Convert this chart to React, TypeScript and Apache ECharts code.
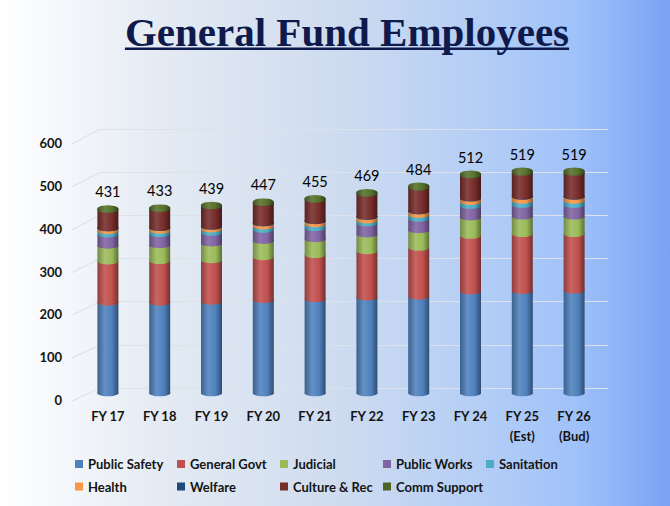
import React, { useEffect, useRef } from "react";
import * as echarts from "echarts";

// Fiscal years on the category axis
const categories = [
  "FY 17", "FY 18", "FY 19", "FY 20", "FY 21",
  "FY 22", "FY 23", "FY 24", "FY 25\n(Est)", "FY 26\n(Bud)",
];

// Employees per department, stacked bottom to top
const publicSafety = [212, 212, 214, 218, 220, 224, 226, 238, 239, 240];
const generalGovt = [96, 97, 97, 100, 103, 108, 114, 130, 133, 132];
const judicial = [37, 37, 39, 38, 37, 39, 41, 43, 41, 41];
const publicWorks = [26, 26, 25, 26, 26, 26, 27, 27, 27, 27];
const sanitation = [8, 8, 8, 8, 9, 7, 9, 9, 10, 10];
const health = [6, 6, 6, 7, 7, 8, 8, 8, 9, 9];
const welfare = [1, 1, 1, 1, 1, 1, 1, 1, 1, 1];
const cultureRec = [42, 43, 47, 46, 49, 53, 54, 53, 55, 55];
const commSupport = [3, 3, 2, 3, 3, 3, 4, 3, 4, 4];

// Total employees printed above each column
const totals = [431, 433, 439, 447, 455, 469, 484, 512, 519, 519];

// Value-axis ticks
const yTicks = [0, 100, 200, 300, 400, 500, 600];

const seriesNames = [
  "Public Safety", "General Govt", "Judicial", "Public Works", "Sanitation",
  "Health", "Welfare", "Culture & Rec", "Comm Support",
];
const seriesData = [
  publicSafety, generalGovt, judicial, publicWorks, sanitation,
  health, welfare, cultureRec, commSupport,
];
const palette = [
  "#4f81bd", "#c0504d", "#9bbb59", "#8064a2", "#4bacc6",
  "#f79646", "#1f497d", "#772c2a", "#4f6228",
];

// legend laid out as columns: [left x, names]
const legendColumns: [number, string[]][] = [
  [75, ["Public Safety", "Health"]],
  [177, ["General Govt", "Welfare"]],
  [280, ["Judicial", "Culture & Rec"]],
  [383, ["Public Works", "Comm Support"]],
  [486, ["Sanitation"]],
];

const TITLE = "General Fund Employees";
const TITLE_FONT = 'bold 41px "Liberation Serif"';
const UI_FONT = "Lato";

function mix(hex: string, target: number, t: number) {
  const n = parseInt(hex.slice(1), 16);
  const ch = [(n >> 16) & 255, (n >> 8) & 255, n & 255];
  const [r, g, b] = ch.map((c) => Math.round(c + (target - c) * t));
  return `rgb(${r},${g},${b})`;
}

// horizontal shading that makes a flat bar read as a cylinder
function cylinder(hex: string) {
  return new echarts.graphic.LinearGradient(0, 0, 1, 0, [
    { offset: 0, color: mix(hex, 0, 0.25) },
    { offset: 0.35, color: mix(hex, 255, 0.12) },
    { offset: 0.7, color: hex },
    { offset: 1, color: mix(hex, 0, 0.4) },
  ]);
}

export default function App() {
  const ref = useRef<HTMLDivElement>(null);

  useEffect(() => {
    if (!ref.current) return;
    const chart = echarts.init(ref.current, null, { renderer: "svg" });

    const BAR_W = 21;
    const CAP_H = 6;

    // running sums give each segment's base value
    const bases: number[][] = [];
    let running = categories.map(() => 0);
    seriesData.forEach((arr) => {
      bases.push(running.slice());
      running = running.map((v, i) => v + arr[i]);
    });

    const bars: any[] = seriesData.map((arr, k) => ({
      name: seriesNames[k],
      type: "bar",
      stack: "total",
      xAxisIndex: 0,
      yAxisIndex: 0,
      barWidth: BAR_W,
      z: 2,
      itemStyle: { color: cylinder(palette[k]) },
      data: arr,
    }));

    // curved lower edge of every segment
    const edges: any[] = seriesData.map((arr, k) =>
      k === 0
        ? {
            type: "pictorialBar",
            xAxisIndex: 0,
            yAxisIndex: 0,
            symbol: "circle",
            symbolSize: [BAR_W, CAP_H],
            symbolPosition: "start",
            symbolOffset: [0, "50%"],
            z: 1,
            itemStyle: { color: cylinder(palette[0]) },
            silent: true,
            data: arr,
          }
        : {
            type: "pictorialBar",
            xAxisIndex: 0,
            yAxisIndex: 0,
            symbol: "circle",
            symbolSize: [BAR_W, CAP_H],
            symbolPosition: "end",
            symbolOffset: [0, "-50%"],
            z: 3 + k,
            itemStyle: { color: cylinder(palette[k]) },
            silent: true,
            data: bases[k],
          }
    );

    const top = {
      type: "pictorialBar",
      xAxisIndex: 0,
      yAxisIndex: 0,
      symbol: "circle",
      symbolSize: [BAR_W, CAP_H + 1],
      symbolPosition: "end",
      symbolOffset: [0, "-50%"],
      z: 20,
      itemStyle: { color: cylinder("#56702a") },
      label: {
        show: true,
        position: "top",
        distance: 6,
        color: "#000",
        fontFamily: UI_FONT,
        fontSize: 14.5,
        formatter: "{c}",
      },
      silent: true,
      data: totals,
    };

    const legendText = {
      color: "#141414",
      fontFamily: UI_FONT,
      fontWeight: "bold",
      fontSize: 13,
      lineHeight: 14,
    };

    const legends = legendColumns.map(([x, names]) => ({
      orient: "vertical",
      left: x,
      top: 457,
      padding: 0,
      itemWidth: 8,
      itemHeight: 8,
      itemGap: 8.5,
      icon: "rect",
      selectedMode: false,
      textStyle: legendText,
      data: names.map((n) => ({
        name: n,
        itemStyle: { color: palette[seriesNames.indexOf(n)] },
      })),
    }));

    // underline width follows the rendered title
    const ctx = document.createElement("canvas").getContext("2d")!;
    ctx.font = TITLE_FONT;
    const titleW = ctx.measureText(TITLE).width;
    const TITLE_X = 347;

    chart.setOption({
      animation: false,
      backgroundColor: "transparent",
      legend: legends,
      grid: [
        { left: 82, width: 518, top: 136.5, height: 256.8 },
        { left: 100, width: 508, top: 129, height: 259 },
        { left: 70, width: 10, top: 143, height: 257 },
      ],
      xAxis: [
        {
          type: "category",
          gridIndex: 0,
          data: categories,
          axisLine: { show: false },
          axisTick: { show: false },
          axisLabel: {
            interval: 0,
            margin: 13,
            color: "#141414",
            fontFamily: UI_FONT,
            fontWeight: "bold",
            fontSize: 13,
            lineHeight: 20,
          },
        },
        { type: "category", gridIndex: 1, data: categories, show: false },
        { type: "value", gridIndex: 2, show: false },
      ],
      yAxis: [
        { type: "value", gridIndex: 0, min: 0, max: 600, interval: 100, show: false },
        {
          type: "value",
          gridIndex: 1,
          min: 0,
          max: 600,
          interval: 100,
          axisLine: { show: false },
          axisTick: { show: false },
          axisLabel: { show: false },
          splitLine: { lineStyle: { color: "#dde2ea", width: 1.2 } },
        },
        {
          type: "value",
          gridIndex: 2,
          min: 0,
          max: 600,
          interval: 100,
          axisLine: { show: false },
          axisTick: { show: false },
          splitLine: { show: false },
          axisLabel: {
            margin: 8,
            color: "#141414",
            fontFamily: UI_FONT,
            fontWeight: "bold",
            fontSize: 13,
          },
        },
      ],
      series: [...edges, ...bars, top],
    });

    // side-wall lines joining each tick label to its back-wall gridline
    const sideLines = yTicks.map((v) => {
      const yLow = chart.convertToPixel({ yAxisIndex: 2 }, v) as number;
      const yHigh = chart.convertToPixel({ yAxisIndex: 1 }, v) as number;
      return {
        type: "line",
        silent: true,
        shape: { x1: 72, y1: yLow + 1, x2: 100, y2: yHigh },
        style: { stroke: "#dde2ea", lineWidth: 1.2 },
        z: 0,
      };
    });

    chart.setOption({
      graphic: [
        ...sideLines,
        {
          type: "text",
          x: TITLE_X,
          y: 32,
          style: {
            text: TITLE,
            font: TITLE_FONT,
            fill: "#0f1a4c",
            textAlign: "center",
            textVerticalAlign: "middle",
          },
        },
        {
          type: "rect",
          shape: { x: TITLE_X - titleW / 2, y: 47.5, width: titleW, height: 2.5 },
          style: { fill: "#0f1a4c" },
        },
      ],
    });

    return () => chart.dispose();
  }, []);

  return (
    <div
      style={{
        position: "absolute",
        left: 0,
        top: 0,
        width: 670,
        height: 506,
        background:
          "linear-gradient(to right, #ffffff 0%, #e3eaf3 25%, #cfdcef 50%, #b6cff5 70%, #a0c2fa 86%, #7aa2f3 100%)",
      }}
    >
      <div ref={ref} style={{ width: 670, height: 506 }} />
    </div>
  );
}
